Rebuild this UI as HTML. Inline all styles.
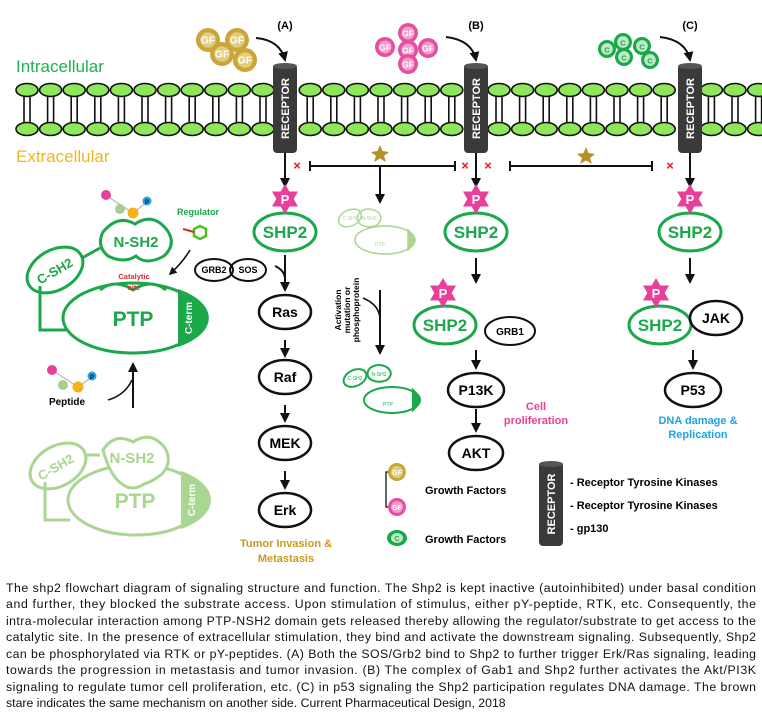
<!DOCTYPE html>
<html><head><meta charset="utf-8"><style>
body{margin:0;background:#fff;}
svg{display:block;font-family:"Liberation Sans",Arial,sans-serif;}
.b{font-weight:bold}
</style></head><body>
<svg id="s" width="762" height="720" viewBox="0 0 762 720" xmlns="http://www.w3.org/2000/svg">
<defs>
<marker id="ar" viewBox="0 0 10 10" refX="8" refY="5" markerWidth="5" markerHeight="5" orient="auto"><path d="M0,0L10,5L0,10z" fill="#111"/></marker>
<marker id="arg" viewBox="0 0 10 10" refX="8" refY="5" markerWidth="5" markerHeight="5" orient="auto"><path d="M0,0L10,5L0,10z" fill="#333"/></marker>
</defs>
<g id="mem"></g>
<text x="16" y="72" font-size="17" fill="#1fb24a">Intracellular</text>
<text x="16" y="162" font-size="17" fill="#f3b51c">Extracellular</text>
<text x="285" y="29" font-size="11" class="b" text-anchor="middle">(A)</text>
<text x="476" y="29" font-size="11" class="b" text-anchor="middle">(B)</text>
<text x="690" y="29" font-size="11" class="b" text-anchor="middle">(C)</text>
<g id="rec"></g>
<g id="gf"></g>
<!-- curved arrows from ligands -->
<path d="M256,38 Q280,40 285,60" fill="none" stroke="#111" stroke-width="2" marker-end="url(#ar)"/>
<path d="M446,37 Q472,40 476,60" fill="none" stroke="#111" stroke-width="2" marker-end="url(#ar)"/>
<path d="M660,37 Q686,40 690,60" fill="none" stroke="#111" stroke-width="2" marker-end="url(#ar)"/>
<!-- down arrows -->
<g stroke="#111" stroke-width="2" fill="none">
<line x1="285" y1="153" x2="285" y2="186" marker-end="url(#ar)"/>
<line x1="476" y1="153" x2="476" y2="186" marker-end="url(#ar)"/>
<line x1="690" y1="153" x2="690" y2="186" marker-end="url(#ar)"/>
<line x1="310" y1="166" x2="455" y2="166"/><line x1="310" y1="161" x2="310" y2="171"/><line x1="455" y1="161" x2="455" y2="171"/>
<line x1="510" y1="166" x2="652" y2="166"/><line x1="510" y1="161" x2="510" y2="171"/><line x1="652" y1="161" x2="652" y2="171"/>
<line x1="380" y1="166" x2="380" y2="202" marker-end="url(#ar)"/>
</g>
<g fill="#e31b1b" font-size="13" class="b" text-anchor="middle">
<text x="297" y="170">×</text><text x="465" y="170">×</text><text x="488" y="170">×</text><text x="670" y="170">×</text>
</g>
<g fill="#b8902a"><polygon id="st1" points="380,145 382.5,151 389,152 384,156 386,162 380,158.5 374,162 376,156 371,152 377.5,151"/>
<polygon points="586,147 588.5,153 595,154 590,158 592,164 586,160.5 580,164 582,158 577,154 583.5,153"/></g>
<g id="shp"></g>
<!-- A pathway -->
<g fill="none" stroke="#111" stroke-width="2">
<ellipse cx="214" cy="270" rx="19" ry="11"/><ellipse cx="248" cy="270" rx="18" ry="11"/>
<path d="M275,266 Q284,270 285,278" />
<line x1="285" y1="255" x2="285" y2="290" marker-end="url(#ar)"/>
<ellipse cx="285" cy="312" rx="26" ry="17" stroke-width="2.5"/>
<ellipse cx="285" cy="377" rx="26" ry="17" stroke-width="2.5"/>
<ellipse cx="285" cy="443" rx="26" ry="17" stroke-width="2.5"/>
<ellipse cx="285" cy="510" rx="26" ry="17" stroke-width="2.5"/>
<line x1="285" y1="340" x2="285" y2="356" marker-end="url(#ar)"/>
<line x1="285" y1="405" x2="285" y2="421" marker-end="url(#ar)"/>
<line x1="285" y1="471" x2="285" y2="488" marker-end="url(#ar)"/>
</g>
<g font-size="9" class="b" text-anchor="middle"><text x="214" y="273">GRB2</text><text x="248" y="273">SOS</text></g>
<g font-size="14" class="b" text-anchor="middle"><text x="285" y="317">Ras</text><text x="285" y="382">Raf</text><text x="285" y="448">MEK</text><text x="285" y="515">Erk</text></g>
<g font-size="11" class="b" text-anchor="middle" fill="#c99a22"><text x="286" y="547">Tumor Invasion &amp;</text><text x="286" y="562">Metastasis</text></g>
<!-- B pathway -->
<g fill="none" stroke="#111" stroke-width="2.5">
<ellipse cx="510" cy="331" rx="25" ry="14" stroke-width="2"/>
<ellipse cx="476" cy="390" rx="28" ry="17"/>
<ellipse cx="476" cy="453" rx="27" ry="17"/>
<line x1="476" y1="258" x2="476" y2="282" stroke-width="2" marker-end="url(#ar)"/>
<line x1="476" y1="350" x2="476" y2="368" stroke-width="2" marker-end="url(#ar)"/>
<line x1="476" y1="409" x2="476" y2="431" stroke-width="2" marker-end="url(#ar)"/>
<ellipse cx="716" cy="318" rx="26" ry="17"/>
<ellipse cx="693" cy="390" rx="28" ry="17"/>
<line x1="690" y1="258" x2="690" y2="282" stroke-width="2" marker-end="url(#ar)"/>
<line x1="693" y1="350" x2="693" y2="368" stroke-width="2" marker-end="url(#ar)"/>
</g>
<g font-size="10" class="b" text-anchor="middle"><text x="510" y="335">GRB1</text></g>
<g font-size="14" class="b" text-anchor="middle"><text x="476" y="395">P13K</text><text x="476" y="458">AKT</text><text x="716" y="323">JAK</text><text x="693" y="395">P53</text></g>
<g font-size="11" class="b" text-anchor="middle" fill="#e8409a"><text x="536" y="410">Cell</text><text x="536" y="424">proliferation</text></g>
<g font-size="11" class="b" text-anchor="middle" fill="#20a3e3"><text x="698" y="424">DNA damage &amp;</text><text x="698" y="438">Replication</text></g>
<!-- middle faded/active small shp2 -->
<g fill="none" stroke="#a9d690" stroke-width="1.5">
<ellipse cx="350" cy="218" rx="12" ry="8" transform="rotate(-25 350 218)"/>
<path d="M360,212 q8,-6 18,0 q6,6 -1,13 q-9,4 -17,-1 q-5,-6 0,-12z"/>
<ellipse cx="385" cy="240" rx="30" ry="14"/>
<path d="M408,230 q12,10 0,20 z" fill="#a9d690"/>
</g>
<g font-size="5" fill="#a9d690" text-anchor="middle"><text x="350" y="220">C-SH2</text><text x="369" y="220">N-SH2</text><text x="380" y="246">PTP</text></g>
<g fill="none" stroke="#1aa84a" stroke-width="2">
<ellipse cx="355" cy="378" rx="12" ry="8" transform="rotate(-25 355 378)"/>
<path d="M370,368 q9,-6 18,0 q6,6 -1,12 q-9,4 -17,-1 q-5,-5 0,-11z"/>
<ellipse cx="392" cy="400" rx="28" ry="13"/>
<path d="M413,390 q12,10 0,20 z" fill="#1aa84a"/>
</g>
<g font-size="5" fill="#1aa84a" text-anchor="middle"><text x="355" y="380">C-SH2</text><text x="379" y="376">N-SH2</text><text x="388" y="406">PTP</text></g>
<g font-size="8.5" class="b" text-anchor="middle">
<text transform="translate(341,310) rotate(-90)">Activation</text>
<text transform="translate(350,310) rotate(-90)">mutation or</text>
<text transform="translate(359,310) rotate(-90)">phosphoprotein</text>
</g>
<path d="M363,298 Q380,305 380,320" fill="none" stroke="#111" stroke-width="1.6"/>
<line x1="380" y1="290" x2="380" y2="353" stroke="#111" stroke-width="2" marker-end="url(#ar)"/>
<!-- left active SHP2 -->
<g fill="none" stroke="#1aa84a" stroke-width="3">
<ellipse cx="133" cy="318" rx="70" ry="35"/>
<ellipse cx="55" cy="270" rx="30" ry="20" transform="rotate(-30 55 270)"/>
<path d="M103,232 q15,-18 32,-8 q18,-12 32,6 q10,14 -3,26 q-18,10 -28,0 q-12,8 -28,0 q-12,-10 -5,-24z"/>
<line x1="82" y1="258" x2="100" y2="248"/>
<polyline points="40,286 40,330 66,330"/>
</g>
<path d="M178,289 A70,35 0 0 1 178,347 Z" fill="#1aa84a"/>
<path d="M100,290 q15,-12 33,0 q18,-12 33,0" fill="#fff" stroke="#1aa84a" stroke-width="3"/>
<text x="192" y="318" font-size="10" fill="#fff" class="b" text-anchor="middle" transform="rotate(-90 192 318)">C-term</text>
<text x="133" y="326" font-size="21" class="b" fill="#1aa84a" text-anchor="middle">PTP</text>
<text x="136" y="247" font-size="15" class="b" fill="#1aa84a" text-anchor="middle">N-SH2</text>
<text x="57" y="275" font-size="13" class="b" fill="#1aa84a" text-anchor="middle" transform="rotate(-30 57 275)">C-SH2</text>
<g font-size="7.5" class="b" fill="#e2262d" text-anchor="middle"><text x="134" y="279">Catalytic</text><text x="134" y="290">site</text></g>
<text x="198" y="215" font-size="9" class="b" fill="#1aa84a" text-anchor="middle">Regulator</text>
<polygon points="200,226 206,229 206,236 200,239 194,236 194,229" fill="none" stroke="#4cc21e" stroke-width="2.5"/>
<line x1="194" y1="232" x2="183" y2="229" stroke="#e2262d" stroke-width="2"/>
<path d="M190,250 Q183,262 170,274" fill="none" stroke="#111" stroke-width="1.6" marker-end="url(#ar)"/>
<g>
<line x1="107" y1="196" x2="133" y2="213" stroke="#aaa"/><line x1="133" y1="213" x2="147" y2="202" stroke="#aaa"/>
<circle cx="106" cy="195" r="5" fill="#e8409a"/><circle cx="120" cy="209" r="5" fill="#a9cd8f"/><circle cx="133" cy="213" r="5.5" fill="#f6b21c"/><circle cx="147" cy="201" r="4.5" fill="#1fa3e6"/>
<line x1="52" y1="370" x2="78" y2="387" stroke="#aaa"/><line x1="78" y1="387" x2="92" y2="377" stroke="#aaa"/>
<circle cx="52" cy="370" r="5" fill="#e8409a"/><circle cx="63" cy="385" r="5" fill="#a9cd8f"/><circle cx="78" cy="387" r="5.5" fill="#f6b21c"/><circle cx="92" cy="376" r="4.5" fill="#1fa3e6"/>
</g>
<g font-size="6" class="b" text-anchor="middle" fill="#111"><text x="147" y="204">P</text><text x="92" y="379">P</text></g>
<text x="67" y="405" font-size="10" class="b" text-anchor="middle">Peptide</text>
<path d="M108,400 Q125,395 132,380" fill="none" stroke="#111" stroke-width="1.6"/>
<line x1="133" y1="408" x2="133" y2="364" stroke="#111" stroke-width="2" marker-end="url(#ar)"/>
<!-- faded -->
<g fill="none" stroke="#a9d690" stroke-width="3">
<ellipse cx="136" cy="500" rx="68" ry="35"/>
<ellipse cx="58" cy="466" rx="30" ry="20" transform="rotate(-30 58 466)"/>
<path d="M103,450 q12,-18 30,-8 q18,-12 32,6 q8,14 -3,26 q-10,8 -18,10 q-12,8 -22,0 q-12,-8 -19,-34z" fill="#fff"/>
<line x1="85" y1="455" x2="100" y2="455"/>
<polyline points="45,482 45,520 70,520"/>
</g>
<path d="M181,471 A68,35 0 0 1 181,529 Z" fill="#a9d690"/>
<text x="195" y="500" font-size="10" fill="#fff" class="b" text-anchor="middle" transform="rotate(-90 195 500)">C-term</text>
<text x="135" y="508" font-size="21" class="b" fill="#a9d690" text-anchor="middle">PTP</text>
<text x="132" y="463" font-size="15" class="b" fill="#a9d690" text-anchor="middle">N-SH2</text>
<text x="58" y="471" font-size="13" class="b" fill="#a9d690" text-anchor="middle" transform="rotate(-30 58 471)">C-SH2</text>
<!-- legend -->
<polyline points="397,472 386,472 386,507 397,507" fill="none" stroke="#111" stroke-width="1.3"/>
<circle cx="397" cy="472" r="9" fill="#c9a53a"/><circle cx="397" cy="472" r="6" fill="#e3cc7a"/>
<circle cx="397" cy="507" r="9" fill="#e64fa0"/><circle cx="397" cy="507" r="6" fill="#f49ccb"/>
<ellipse cx="397" cy="538" rx="10" ry="8" fill="#1aa84a"/><ellipse cx="397" cy="538" rx="6" ry="5" fill="#bfe9c8"/>
<g font-size="7" fill="#fff" class="b" text-anchor="middle"><text x="397" y="475">GF</text><text x="397" y="510">GF</text><text x="397" y="541" fill="#1aa84a">C</text></g>
<g font-size="11" class="b"><text x="425" y="494">Growth Factors</text><text x="425" y="543">Growth Factors</text>
<text x="570" y="486">-  Receptor Tyrosine Kinases</text><text x="570" y="509">-  Receptor Tyrosine Kinases</text><text x="570" y="532">-  gp130</text></g>
<!-- caption -->
<g font-size="12.3" fill="#111">
<text x="6" y="592" textLength="750" lengthAdjust="spacing">The shp2 flowchart diagram of signaling structure and function. The Shp2 is kept inactive (autoinhibited) under basal condition</text>
<text x="6" y="608" textLength="750" lengthAdjust="spacing">and further, they blocked the substrate access. Upon stimulation of stimulus, either pY-peptide, RTK, etc. Consequently, the</text>
<text x="6" y="625" textLength="750" lengthAdjust="spacing">intra-molecular interaction among PTP-NSH2 domain gets released thereby allowing the regulator/substrate to get access to the</text>
<text x="6" y="641" textLength="750" lengthAdjust="spacing">catalytic site. In the presence of extracellular stimulation, they bind and activate the downstream signaling. Subsequently, Shp2</text>
<text x="6" y="658" textLength="750" lengthAdjust="spacing">can be phosphorylated via RTK or pY-peptides. (A) Both the SOS/Grb2 bind to Shp2 to further trigger Erk/Ras signaling, leading</text>
<text x="6" y="674" textLength="750" lengthAdjust="spacing">towards the progression in metastasis and tumor invasion. (B) The complex of Gab1 and Shp2 further activates the Akt/PI3K</text>
<text x="6" y="691" textLength="750" lengthAdjust="spacing">signaling to regulate tumor cell proliferation, etc. (C) in p53 signaling the Shp2 participation regulates DNA damage. The brown</text>
<text x="6" y="707">stare indicates the same mechanism on another side. Current Pharmaceutical Design, 2018</text>
</g>
</svg>
<script>
var NS="http://www.w3.org/2000/svg";
function el(p,t,a,txt){var e=document.createElementNS(NS,t);for(var k in a)e.setAttribute(k,a[k]);if(txt)e.textContent=txt;document.getElementById(p).appendChild(e);return e;}
var recs=[285,476,690];
for(var x=27;x<760;x+=23.6){
 var skip=false;recs.forEach(function(r){if(Math.abs(x-r)<18)skip=true;});
 if(skip)continue;
 el("mem","line",{x1:x-3,y1:95,x2:x-3,y2:123,stroke:"#111","stroke-width":1.6});
 el("mem","line",{x1:x+3,y1:95,x2:x+3,y2:123,stroke:"#111","stroke-width":1.6});
 el("mem","ellipse",{cx:x,cy:90,rx:11,ry:6.5,fill:"#8ee65a",stroke:"#111","stroke-width":1.6});
 el("mem","ellipse",{cx:x,cy:129,rx:11,ry:6.5,fill:"#8ee65a",stroke:"#111","stroke-width":1.6});
}
function receptor(g,cx,y1,y2){
 el(g,"rect",{x:cx-12,y:y1,width:24,height:y2-y1,rx:4,fill:"#3a3a3a"});
 el(g,"ellipse",{cx:cx,cy:y1+2,rx:12,ry:3,fill:"#555"});
 el(g,"text",{x:0,y:0,"font-size":11,"font-weight":"bold",fill:"#fff","text-anchor":"middle",transform:"translate("+(cx+4)+","+((y1+y2)/2)+") rotate(-90)"},"RECEPTOR");
}
recs.forEach(function(r){receptor("rec",r,64,153);});
receptor("rec",551,462,546);
function gf(cx,cy,r,c1,c2,t){el("gf","circle",{cx:cx,cy:cy,r:r,fill:c1});el("gf","circle",{cx:cx,cy:cy,r:r*0.65,fill:c2});
 el("gf","text",{x:cx,y:cy+3.5,"font-size":r*0.85,"font-weight":"bold",fill:t=="C"?"#1aa84a":"#fff","text-anchor":"middle"},t);}
[[208,40],[237,40],[222,54],[245,60]].forEach(function(p){gf(p[0],p[1],12,"#c9a53a","#e3cc7a","GF");});
[[408,33],[385,47],[408,50],[428,48],[408,64]].forEach(function(p){gf(p[0],p[1],10,"#e64fa0","#f49ccb","GF");});
[[607,49],[623,42],[642,46],[624,57],[650,60]].forEach(function(p){gf(p[0],p[1],9,"#1aa84a","#bfe9c8","C");});
function star(cx,cy,r){var pts=[];for(var i=0;i<12;i++){var a=Math.PI/6*i-Math.PI/2;var rr=i%2?r*0.58:r;pts.push((cx+rr*Math.cos(a)).toFixed(1)+","+(cy+rr*Math.sin(a)).toFixed(1));}
 el("shp","polygon",{points:pts.join(" "),fill:"#e8409a"});
 el("shp","text",{x:cx,y:cy+5,"font-size":13,"font-weight":"bold",fill:"#fff","text-anchor":"middle"},"P");}
function shp(cx,cy,sx,sy){el("shp","ellipse",{cx:cx,cy:cy,rx:31,ry:19,fill:"#fff",stroke:"#1aa84a","stroke-width":3});
 el("shp","text",{x:cx,y:cy+6,"font-size":17,"font-weight":"bold",fill:"#1aa84a","text-anchor":"middle"},"SHP2");star(sx,sy,15);}
shp(285,232,285,199);shp(476,232,476,199);shp(690,232,690,199);
shp(445,325,443,293);shp(660,325,656,293);
</script>
</body></html>
